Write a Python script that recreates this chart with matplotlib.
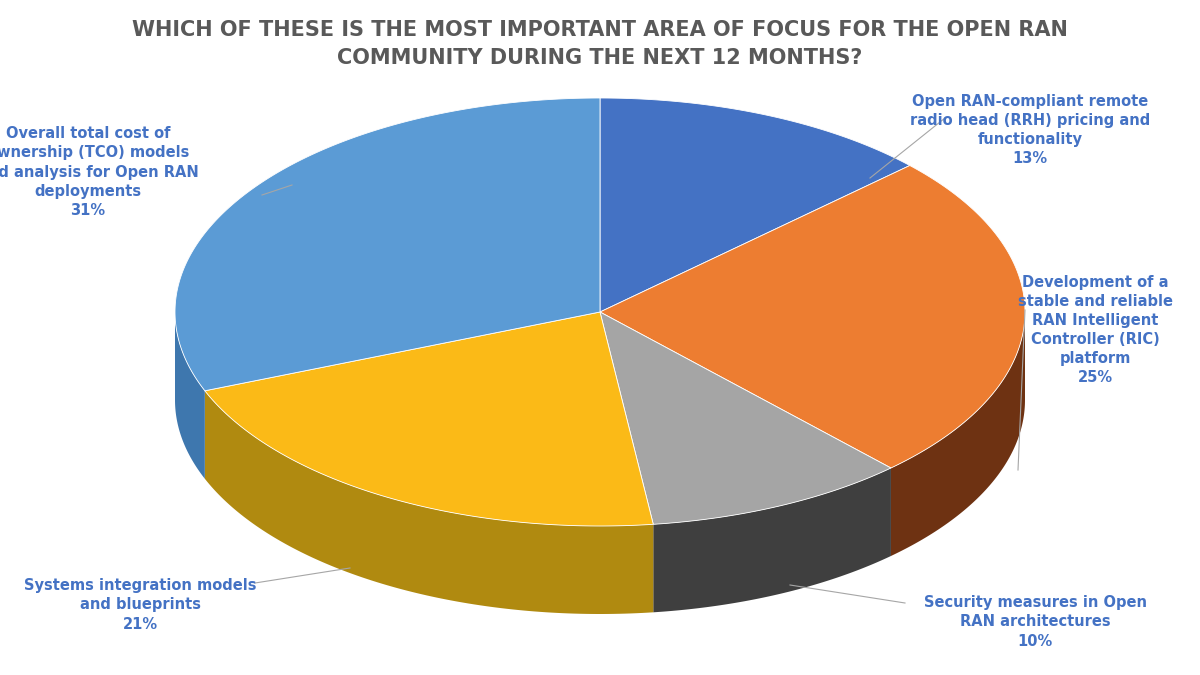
import numpy as np
import matplotlib.pyplot as plt
from matplotlib.patches import Polygon

labels = ["Open RAN-compliant remote\nradio head (RRH) pricing and\nfunctionality",
          "Development of a\nstable and reliable\nRAN Intelligent\nController (RIC)\nplatform",
          "Security measures in Open\nRAN architectures",
          "Systems integration models\nand blueprints",
          "Overall total cost of\nownership (TCO) models\nand analysis for Open RAN\ndeployments"]
values = [13, 25, 10, 21, 31]
top_colors = ["#4472C4", "#ED7D31", "#A5A5A5", "#FBBA17", "#5B9BD5"]
side_colors = ["#2F528F", "#6E3212", "#3F3F3F", "#B08A10", "#3E77AE"]

W, H = 1200, 675
fig = plt.figure(figsize=(12, 6.75), dpi=100)
ax = fig.add_axes([0, 0, 1, 1])
ax.set_xlim(0, W); ax.set_ylim(H, 0); ax.axis("off")

cx, cy, rx, ry, depth = 600, 312, 425, 214, 88

def pt(th, dy=0):
    t = np.radians(th)
    return cx + rx*np.sin(t), cy - ry*np.cos(t) + dy

bounds = np.concatenate([[0], np.cumsum(values)]) * 3.6
for i in range(len(values)):
    a, b = max(bounds[i], 90), min(bounds[i+1], 270)
    if a < b:
        th = np.linspace(a, b, 100)
        top = [pt(t) for t in th]
        bot = [pt(t, depth) for t in th[::-1]]
        ax.add_patch(Polygon(top + bot, closed=True, fc=side_colors[i], ec="none"))
for i in range(len(values)):
    th = np.linspace(bounds[i], bounds[i+1], 200)
    poly = [(cx, cy)] + [pt(t) for t in th]
    ax.add_patch(Polygon(poly, closed=True, fc=top_colors[i], ec="white", lw=0.6))

ax.text(600, 44, "WHICH OF THESE IS THE MOST IMPORTANT AREA OF FOCUS FOR THE OPEN RAN\nCOMMUNITY DURING THE NEXT 12 MONTHS?",
        ha="center", va="center", fontsize=15, fontweight="bold", color="#595959", linespacing=1.5)

lab_pos = [(1030, 130), (1095, 330), (1035, 622), (140, 605), (88, 172)]
for i in range(len(values)):
    x, y = lab_pos[i]
    ax.text(x, y, labels[i] + f"\n{values[i]}%", ha="center", va="center", fontsize=10.5,
            fontweight="bold", color="#4472C4", linespacing=1.35)
ax.plot([870, 945], [178, 118], color="#A6A6A6", lw=0.8)
ax.plot([1018, 1025], [470, 310], color="#A6A6A6", lw=0.8)
ax.plot([790, 905], [585, 603], color="#A6A6A6", lw=0.8)
ax.plot([350, 255], [568, 583], color="#A6A6A6", lw=0.8)
ax.plot([292, 262], [185, 195], color="#A6A6A6", lw=0.8)

fig.savefig("out.png", dpi=100)
